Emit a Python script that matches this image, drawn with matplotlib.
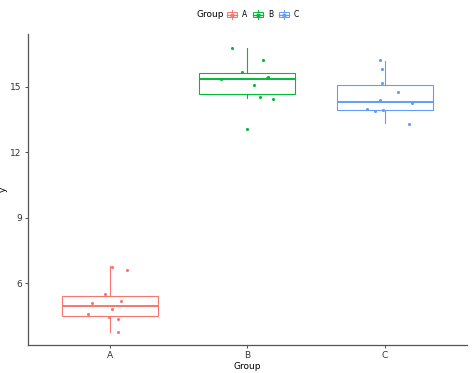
#boxplot with jittered points, ggplot-ish look

#imports
import numpy as np
import matplotlib.pyplot as plt
from matplotlib.legend_handler import HandlerBase
from matplotlib.patches import Rectangle
from matplotlib.lines import Line2D

#data
groups = ['A', 'B', 'C']
colors = ['#F8766D', '#00BA38', '#619CFF']

#raw points (jitter offsets)
a_y = [6.75, 6.60, 5.50, 5.10, 5.16, 4.79, 4.58, 4.46, 4.35, 3.77]
a_dx = [0.01, 0.12, -0.04, -0.13, 0.08, 0.01, -0.16, -0.01, 0.06, 0.06]
b_y = [16.80, 16.22, 15.70, 15.35, 15.47, 15.43, 15.11, 14.54, 14.45, 13.06]
b_dx = [-0.11, 0.11, -0.04, -0.19, 0.15, 0.14, 0.05, 0.09, 0.19, 0.0]
c_y = [16.25, 15.83, 15.17, 14.78, 14.39, 14.28, 13.98, 13.89, 13.94, 13.32]
c_dx = [-0.03, -0.02, -0.02, 0.10, -0.03, 0.20, -0.13, -0.07, -0.01, 0.18]

#box stats
q1 = [4.50, 14.68, 13.94]
med = [4.96, 15.37, 14.33]
q3 = [5.42, 15.66, 15.08]
whislo = [3.77, 14.48, 13.33]
whishi = [6.79, 16.78, 16.21]

y_ticks = [6, 9, 12, 15]

#legend key that looks like a tiny boxplot
class BoxKey(HandlerBase):
    def create_artists(self, legend, orig_handle, xdescent, ydescent, width, height, fontsize, trans):
        c = orig_handle.get_color()
        w = width
        x0 = -xdescent
        y0 = -ydescent
        box = Rectangle((x0, y0 + height * 0.15), w, height * 0.7, facecolor='white', edgecolor=c, lw=0.7, transform=trans)
        wl = Line2D([x0 + w / 2] * 2, [y0 - height * 0.1, y0 + height * 1.1], color=c, lw=0.7, transform=trans)
        ml = Line2D([x0, x0 + w], [y0 + height / 2] * 2, color=c, lw=1.0, transform=trans)
        pt = Line2D([x0 + w / 2], [y0 + height / 2], marker='o', ms=2, color=c, transform=trans)
        return [wl, box, ml, pt]

fig = plt.figure(figsize=(4.74, 3.73), dpi=100)
ax = fig.add_axes([0.059, 0.075, 0.926, 0.834])

stats = []
for i in range(3):
    stats.append({'q1': q1[i], 'med': med[i], 'q3': q3[i], 'whislo': whislo[i], 'whishi': whishi[i], 'fliers': []})

pos = np.arange(1, 4)
bp = ax.bxp(stats, positions=pos, widths=0.7, showcaps=False, patch_artist=True)
for i, c in enumerate(colors):
    bp['boxes'][i].set(facecolor='white', edgecolor=c, lw=0.8)
    bp['medians'][i].set(color=c, lw=1.4)
    bp['whiskers'][2 * i].set(color=c, lw=0.8)
    bp['whiskers'][2 * i + 1].set(color=c, lw=0.8)

for i, (yy, dx) in enumerate([(a_y, a_dx), (b_y, b_dx), (c_y, c_dx)]):
    ax.scatter(pos[i] + np.array(dx), yy, s=5, color=colors[i], zorder=3, linewidths=0)

ax.set_xlim(0.4, 3.6)
ax.set_ylim(3.16, 17.43)
ax.set_xticks(pos)
ax.set_xticklabels(groups)
ax.set_yticks(y_ticks)
ax.tick_params(labelsize=6.5, colors='#333333', length=2.5, width=0.6, pad=2)
for s in ['top', 'right']:
    ax.spines[s].set_visible(False)
for s in ['left', 'bottom']:
    ax.spines[s].set_color('#555555')
    ax.spines[s].set_linewidth(0.9)
ax.set_xlabel('Group', fontsize=6.5, labelpad=1)
ax.set_ylabel('y', fontsize=6.5)
ax.yaxis.set_label_coords(-0.045, 0.5)

#legend on top
handles = [Line2D([], [], color=c) for c in colors]
fig.text(0.443, 0.96, 'Group', fontsize=6.5, ha='center', va='center')
fig.legend(handles, groups, handler_map={Line2D: BoxKey()}, ncol=3, loc='center', bbox_to_anchor=(0.555, 0.96),
           frameon=False, fontsize=5.5, handlelength=1.3, handleheight=1.1, handletextpad=0.6, columnspacing=0.8)

plt.savefig('out.png')
